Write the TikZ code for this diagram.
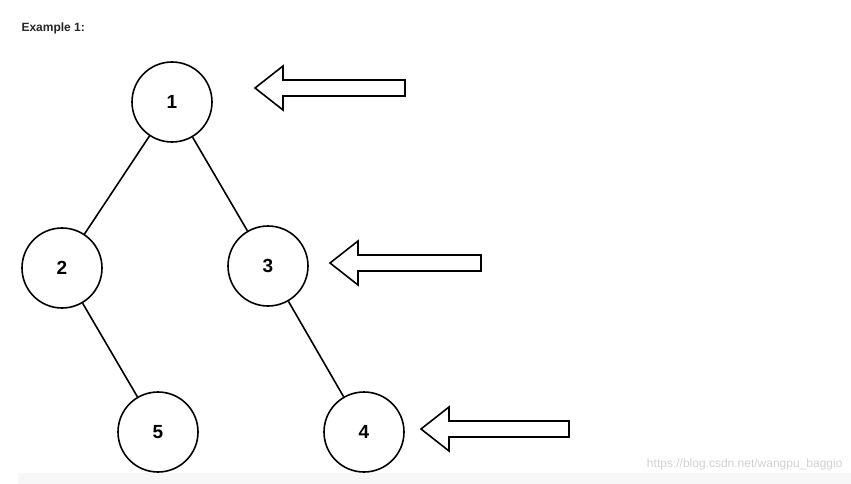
\documentclass[tikz,border=0pt]{standalone}
\usepackage{fontspec}
\setmainfont{Liberation Sans}
\begin{document}
\begin{tikzpicture}[x=1pt,y=-1pt,
  tnode/.style={circle,draw,line width=1.6pt,minimum size=80pt,inner sep=0pt,font=\bfseries\fontsize{19}{22}\selectfont},
  edge/.style={line width=1.6pt},
  hollow/.style={draw,line width=1.6pt,line join=miter,fill=white}]
\useasboundingbox (0,0) rectangle (851,484);
\fill[white] (0,0) rectangle (851,484);
\fill[black!3] (18,473) rectangle (851,484);
\node[anchor=west,font=\bfseries\fontsize{12}{14}\selectfont,text=black!85] (title) at (18,28) {Example 1:};
\node[tnode] (n1) at (172,102) {1};
\node[tnode] (n2) at (62,268) {2};
\node[tnode] (n3) at (268,266) {3};
\node[tnode] (n5) at (158,432) {5};
\node[tnode] (n4) at (364,432) {4};
\draw[edge] (n1) -- (n2);
\draw[edge] (n1) -- (n3);
\draw[edge] (n2) -- (n5);
\draw[edge] (n3) -- (n4);
\foreach \tx/\ty/\ex in {255/88/405, 330/263/481, 421/429/569}{
  \draw[hollow] (\tx,\ty) -- (\tx+28,\ty-22) -- (\tx+28,\ty-8) -- (\ex,\ty-8) -- (\ex,\ty+8) -- (\tx+28,\ty+8) -- (\tx+28,\ty+22) -- cycle;
}
\node[anchor=east,text=black!18,font=\fontsize{12}{14}\selectfont] (wm) at (846,464) {https://blog.csdn.net/wangpu\_baggio};
\end{tikzpicture}
\end{document}
